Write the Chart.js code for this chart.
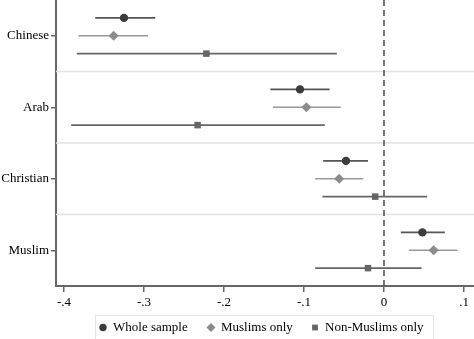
<!DOCTYPE html>
<html>
<head>
<meta charset="utf-8">
<script src="https://cdn.jsdelivr.net/npm/chart.js@4.4.0/dist/chart.umd.min.js"></script>
<style>
  html, body { margin: 0; padding: 0; background: #fff; }
  #wrap { width: 474px; height: 339px; position: relative; }
</style>
</head>
<body>
<div id="wrap"><canvas id="lienzo"></canvas></div>
<script>
// categories and estimates (with 95% CI)
const categories = ["Chinese", "Arab", "Christian", "Muslim"]
const wholeEst = [-0.325, -0.105, -0.0475, 0.048]
const wholeLo = [-0.361, -0.142, -0.076, 0.021]
const wholeHi = [-0.286, -0.068, -0.020, 0.076]
const muslimEst = [-0.338, -0.097, -0.056, 0.062]
const muslimLo = [-0.382, -0.139, -0.086, 0.031]
const muslimHi = [-0.295, -0.054, -0.026, 0.092]
const nonEst = [-0.222, -0.233, -0.011, -0.020]
const nonLo = [-0.384, -0.391, -0.077, -0.086]
const nonHi = [-0.059, -0.074, 0.054, 0.047]
const xTicks = [-0.4, -0.3, -0.2, -0.1, 0, 0.1]
const xTickLabels = ["-.4", "-.3", "-.2", "-.1", "0", ".1"]
const legendLabels = ["Whole sample", "Muslims only", "Non-Muslims only"]

const serif = { family: "'Liberation Serif', 'DejaVu Serif', serif", size: 13 }

// y position of each series inside its category band
function rowY(i, off) { return i + 0.5 + off }

function ciLine(lo, hi, off) {
    let pts = []
    for (let i = 0; i < categories.length; i++) {
        pts.push({ x: lo[i], y: rowY(i, off) })
        pts.push({ x: hi[i], y: rowY(i, off) })
        pts.push({ x: null, y: null })
    }
    return pts
}
function estPoints(est, off) {
    return est.map((v, i) => ({ x: v, y: rowY(i, off) }))
}

const series = [
    { est: wholeEst, lo: wholeLo, hi: wholeHi, off: -0.25, line: "#555555", mark: "#3c3c3c", style: "circle", r: 4.2 },
    { est: muslimEst, lo: muslimLo, hi: muslimHi, off: 0, line: "#9a9a9a", mark: "#8c8c8c", style: "rectRot", r: 5 },
    { est: nonEst, lo: nonLo, hi: nonHi, off: 0.25, line: "#666666", mark: "#666666", style: "rect", r: 4.6 },
]

let datasets = []
series.forEach((s, k) => {
    datasets.push({
        type: "line",
        label: legendLabels[k] + " CI",
        data: ciLine(s.lo, s.hi, s.off),
        borderColor: s.line,
        borderWidth: 1.6,
        pointRadius: 0,
        spanGaps: false,
        order: 2
    })
})
series.forEach((s, k) => {
    datasets.push({
        type: "scatter",
        label: legendLabels[k],
        data: estPoints(s.est, s.off),
        pointStyle: s.style,
        pointRadius: s.r,
        backgroundColor: s.mark,
        borderColor: s.mark,
        borderWidth: 0,
        order: 1
    })
})

const guides = {
    id: "guides",
    beforeDatasetsDraw(chart) {
        const { ctx, chartArea, scales } = chart
        ctx.save()
        // separators between categories
        ctx.strokeStyle = "#e2e2e2"
        ctx.lineWidth = 1.5
        for (let b = 1; b < categories.length; b++) {
            const y = scales.y.getPixelForValue(b)
            ctx.beginPath()
            ctx.moveTo(chartArea.left, y)
            ctx.lineTo(chartArea.right, y)
            ctx.stroke()
        }
        // dashed zero line
        const x0 = scales.x.getPixelForValue(0)
        ctx.strokeStyle = "#555555"
        ctx.lineWidth = 1.6
        ctx.setLineDash([6, 4])
        ctx.beginPath()
        ctx.moveTo(x0, chartArea.top)
        ctx.lineTo(x0, chartArea.bottom)
        ctx.stroke()
        ctx.restore()
    }
}

const boxLegend = {
    id: "boxLegend",
    afterDraw(chart) {
        const ctx = chart.ctx
        ctx.save()
        ctx.strokeStyle = "#e6e6e6"
        ctx.lineWidth = 1
        ctx.strokeRect(95.5, 315.5, 338, 30)
        ctx.font = "13px 'Liberation Serif', serif"
        ctx.fillStyle = "#000"
        ctx.textBaseline = "middle"
        const xs = [103, 211, 315]
        series.forEach((s, k) => {
            ctx.fillStyle = s.mark
            ctx.strokeStyle = s.mark
            Chart.helpers.drawPoint(ctx, { pointStyle: s.style, radius: s.r - 0.5, borderWidth: 0 }, xs[k], 327.5)
            ctx.fillStyle = "#000"
            ctx.fillText(legendLabels[k], xs[k] + 10, 328)
        })
        ctx.restore()
    }
}

new Chart(document.getElementById("lienzo"), {
    type: "scatter",
    data: { datasets: datasets },
    options: {
        responsive: true,
        maintainAspectRatio: false,
        animation: false,
        layout: { padding: 0, autoPadding: false },
        plugins: {
            legend: { display: false },
            tooltip: { enabled: false }
        },
        scales: {
            x: {
                type: "linear",
                min: -0.41,
                max: 0.1125,
                afterBuildTicks: s => { s.ticks = xTicks.map(v => ({ value: v })) },
                afterFit: s => { s.height = 53; s.paddingLeft = 0; s.paddingRight = 0 },
                ticks: { callback: (v, i) => xTickLabels[i], font: serif, color: "#000", padding: 3, maxRotation: 0 },
                grid: { drawOnChartArea: false, tickLength: 6, color: "#666", lineWidth: 1.5 },
                border: { color: "#666", width: 2 }
            },
            y: {
                type: "linear",
                min: 0,
                max: 4,
                reverse: true,
                afterBuildTicks: s => { s.ticks = categories.map((c, i) => ({ value: i + 0.5 })) },
                afterFit: s => { s.width = 56; s.paddingTop = 0; s.paddingBottom = 0 },
                ticks: { callback: (v, i) => categories[i], font: serif, color: "#000", padding: 2 },
                grid: { drawOnChartArea: false, tickLength: 5, color: "#666", lineWidth: 1.5 },
                border: { color: "#666", width: 2 }
            }
        }
    },
    plugins: [guides, boxLegend]
})
</script>
</body>
</html>
